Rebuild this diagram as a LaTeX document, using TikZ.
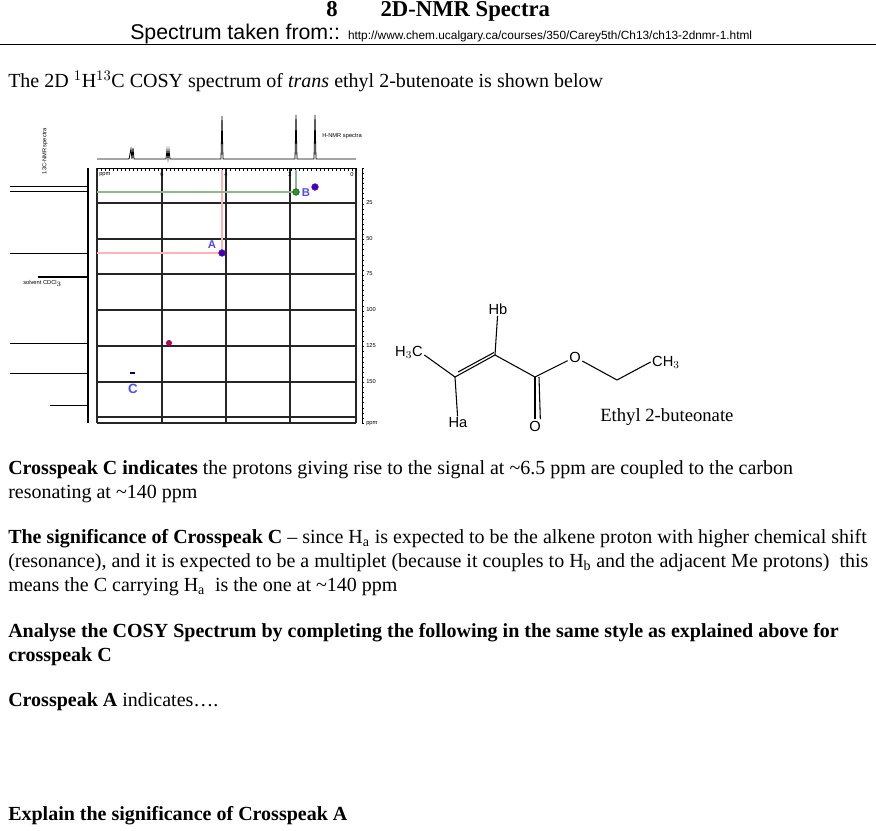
\documentclass[tikz,border=0pt]{standalone}
\usepackage{fontspec}
\setmainfont{Liberation Serif}
\setsansfont{Liberation Sans}
\begin{document}
\begin{tikzpicture}[x=0.75pt,y=-0.75pt,
  body/.style={anchor=west,inner sep=0pt,font=\fontsize{15}{18}\selectfont,align=left},
  grid/.style={line width=1pt,black!85},
  tiny/.style={font=\sffamily\fontsize{4.3}{5}\selectfont,inner sep=0pt},
  bond/.style={line width=0.8pt},
  atom/.style={font=\sffamily\fontsize{11}{12}\selectfont,inner sep=1pt},
  dot/.style={circle,fill=blue!60!violet,draw=violet,inner sep=0pt,minimum size=5pt},
  lab/.style={font=\sffamily\bfseries\fontsize{8.5}{9}\selectfont,text=blue!70,inner sep=0pt}]
\useasboundingbox (0,0) rectangle (876,831);
% header
\node[font=\bfseries\fontsize{17}{18}\selectfont,inner sep=0pt,anchor=west] (h1) at (326,11) {8\hspace{1.9em}2D-NMR Spectra};
\node[anchor=west,inner sep=0pt] (h2) at (130,34) {\sffamily\fontsize{16}{18}\selectfont Spectrum taken from:: {\fontsize{8.9}{10}\selectfont http://www.chem.ucalgary.ca/courses/350/Carey5th/Ch13/ch13-2dnmr-1.html}};
\draw[line width=0.6pt] (0,44) -- (876,44);
\node[body] (t1) at (8,81) {The 2D $^{1}$H$^{13}$C COSY spectrum of \textit{trans} ethyl 2-butenoate is shown below};
% plot grid
\foreach \x in {97,162,226,290,356} \draw[grid] (\x,168) -- (\x,423);
\foreach \y in {203,239,274,310,346,382,417,423} \draw[grid] (97,\y) -- (356,\y);
\draw[line width=0.6pt] (97,168) -- (356,168);
\foreach \i in {0,...,64} \draw[line width=0.3pt] ({97+\i*4.05},168) -- ({97+\i*4.05},171);
\node[tiny,anchor=north west] (ppm1) at (99,172) {ppm};
\foreach \x/\l in {162/6,226/4,290/2,352/0} \node[tiny,anchor=north] at (\x,172) {\l};
% right axis
\draw[line width=0.4pt] (364,168) -- (362,168) -- (362,423) -- (364,423);
\foreach \i in {0,...,50} \draw[line width=0.25pt] (362,{168+\i*5.1}) -- (364,{168+\i*5.1});
\foreach \y/\l in {203/25,239/50,274/75,310/100,346/125,382/150} \node[tiny,anchor=west] at (366,\y) {\l};
\node[tiny,anchor=west] at (366,424) {ppm};
% 1H spectrum
\draw[line width=0.6pt] (97,159) -- (129,159) -- (131,149) -- (132,159) -- (133,148) -- (134,159) -- (166,159) -- (167,150) -- (168,159) -- (169,150) -- (170,159) -- (221,159) -- (222,116) -- (223,159) -- (295,159) -- (296,115) -- (297,159) -- (314,159) -- (315,115) -- (316,159) -- (356,159);
\node[tiny,anchor=west] (hnmr) at (322,136) {H-NMR spectra};
% 13C spectrum
\draw[line width=0.8pt] (88,168) -- (88,423);
\foreach \y/\s in {186/10,191/10,253/10,343/10,373/10,405/50} \draw[line width=0.6pt] (\s,\y) -- (88,\y);
\draw[line width=1pt] (38,277) -- (88,277);
\node[tiny,rotate=90,anchor=east] (cnmr) at (45,128) {13C-NMR spectra};
\node[tiny,anchor=west] (solv) at (23,283) {solvent CDCl$_3$};
% cross peaks
\draw[red!30,line width=1.2pt] (222,170) -- (222,253) -- (97,253);
\draw[green!40!black!45,line width=1.1pt] (296,170) -- (296,192) -- (97,192);
\node[dot] (A) at (222,253) {};
\node[lab] (Al) at (212,245) {A};
\node[dot,fill=green!70!black] (B) at (296,192) {};
\node[lab] (Bl) at (306,193) {B};
\node[dot] (P1) at (315,187) {};
\node[dot,minimum size=4pt,fill=red!60!violet] (P2) at (169,343) {};
\draw[line width=1.4pt,blue!40!black] (130,373) -- (135,373);
\node[lab,font=\sffamily\bfseries\fontsize{10}{10}\selectfont] (Cl) at (133,389) {C};
% molecule
\node[atom] (me) at (409,352) {H$_3$C};
\coordinate (c1) at (455,377);
\coordinate (c2) at (495,355);
\coordinate (c3) at (535,377);
\node[atom] (o1) at (575,357) {O};
\coordinate (c4) at (617,380);
\node[atom] (me2) at (666,362) {CH$_3$};
\node[atom] (hb) at (498,309) {Hb};
\node[atom] (ha) at (458,423) {Ha};
\node[atom] (o2) at (535,426) {O};
\draw[bond] (me.east) ++(0,3) -- (c1) -- (c2) -- (c3) -- (o1) -- (c4) -- (me2.west);
\draw[bond] (458,372) -- (494,352.5);
\draw[bond] (c2) -- (hb);
\draw[bond] (c1) -- (ha);
\draw[bond] (c3) -- (o2);
\draw[bond] (539,377) -- ([xshift=4pt]o2.north);
\node[anchor=west,inner sep=0pt,font=\fontsize{14}{16}\selectfont] (name) at (600,417) {Ethyl 2-buteonate};
% text
\node[body] (p1) at (8,482) {\textbf{Crosspeak C indicates} the protons giving rise to the signal at \textasciitilde6.5 ppm are coupled to the carbon\\resonating at \textasciitilde140 ppm};
\node[body] (p2) at (8,563) {\textbf{The significance of Crosspeak C} -- since H$_\mathrm{a}$ is expected to be the alkene proton with higher chemical shift\\(resonance), and it is expected to be a multiplet (because it couples to H$_\mathrm{b}$ and the adjacent Me protons)\ \ this\\means the C carrying H$_\mathrm{a}$\ \ is the one at \textasciitilde140 ppm};
\node[body] (p3) at (8,645) {\textbf{Analyse the COSY Spectrum by completing the following in the same style as explained above for}\\\textbf{crosspeak C}};
\node[body] (p4) at (8,702) {\textbf{Crosspeak A} indicates\dots.};
\node[body] (p5) at (8,816) {\textbf{Explain the significance of Crosspeak A}};
\end{tikzpicture}
\end{document}
